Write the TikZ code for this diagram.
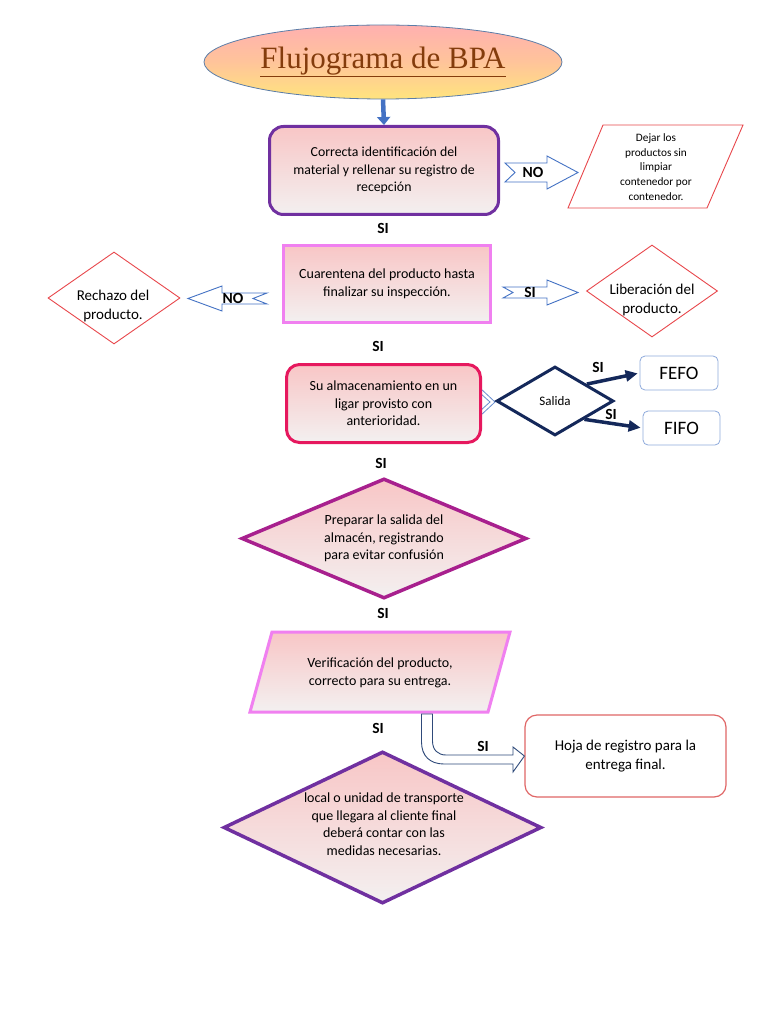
\documentclass[tikz,border=0pt]{standalone}
\usepackage{fontspec}
\setmainfont{Carlito}
\newfontfamily\titlefont{Liberation Serif}
\usetikzlibrary{shapes.geometric,arrows.meta}
\definecolor{pinkA}{HTML}{F8C6C6}
\definecolor{pinkB}{HTML}{F3F0F0}
\definecolor{titleA}{HTML}{FFB0B0}
\definecolor{titleM}{HTML}{FFC49A}
\definecolor{titleB}{HTML}{FFE47E}
\definecolor{titleline}{HTML}{5B7DA8}
\definecolor{titlebrown}{HTML}{843C0C}
\definecolor{purp}{HTML}{7030A0}
\definecolor{violet}{HTML}{F080F0}
\definecolor{crimson}{HTML}{E6185E}
\definecolor{magenta}{HTML}{A8208E}
\definecolor{navy}{HTML}{14285A}
\definecolor{lightblue}{HTML}{8FAADC}
\definecolor{redline}{HTML}{E8474C}
\definecolor{hojaline}{HTML}{E06666}
\definecolor{arrblue}{HTML}{4472C4}
\definecolor{uline}{HTML}{2F4A7A}
\tikzset{
  txt/.style={font=\fontsize{14}{17.5}\selectfont, align=center, text=black},
  grad/.style={top color=pinkA, bottom color=pinkB},
  lbl/.style={font=\fontsize{15.5}{18}\selectfont\bfseries, text=black},
  thickbox/.style={txt, grad, line width=3pt, inner sep=0pt, rectangle},
  thindia/.style={diamond, draw=redline, line width=0.9pt, fill=white, inner sep=0pt, shape aspect=1.42},
  diatxt/.style={txt, font=\fontsize{15}{18.5}\selectfont},
  blockarrow/.style={draw=arrblue, line width=0.9pt, fill=white, line join=miter},
  navyarrow/.style={draw=navy, line width=3.5pt, -{Triangle[length=12pt,width=11pt]}, shorten >=2pt},
  smallbox/.style={rectangle, rounded corners=5pt, draw=lightblue, line width=0.8pt, fill=white, font=\fontsize{19}{22}\selectfont, inner sep=0pt}
}
\begin{document}
\begin{tikzpicture}[x=1pt,y=-1pt]
\useasboundingbox (0,0) rectangle (768,1024);
\fill[white] (0,0) rectangle (768,1024);

% title
\node[ellipse, draw=titleline, line width=0.8pt, minimum width=358pt, minimum height=74pt, inner sep=0pt,
      top color=titleA, bottom color=titleB, middle color=titleM,
      font=\titlefont\fontsize{31}{36}\selectfont, text=titlebrown] (title) at (383,62) {\underline{Flujograma de BPA}};

% box 1
\node[thickbox, draw=purp, rounded corners=14pt, minimum width=229pt, minimum height=88pt, font=\fontsize{13.8}{17.5}\selectfont] (b1) at (384,170.5)
  {Correcta identificación del\\material y rellenar su registro de\\recepción};
\draw[draw=arrblue, line width=4.5pt, -{Triangle[length=8pt,width=13pt]}] (title.south) -- (b1.north);

% NO arrow right + Dejar
\draw[blockarrow] (505,163) -- (547,163) -- (547,156) -- (578,172.5) -- (547,189) -- (547,182) -- (505,182) -- (515,172.5) -- cycle;
\node[lbl] (no1) at (533,172) {NO};
\coordinate (d1) at (603,125);
\coordinate (d2) at (743,125);
\coordinate (d3) at (707,208);
\coordinate (d4) at (568,208);
\draw[draw=redline, line width=0.9pt, fill=white] (d1) -- (d2) -- (d3) -- (d4) -- cycle;
\node[txt, font=\fontsize{11.3}{14.8}\selectfont] (dejar) at (656,167) {Dejar los\\productos sin\\limpiar\\contenedor por\\contenedor.};

\node[lbl] (si1) at (383,228) {SI};

% box 2
\node[thickbox, draw=violet, minimum width=207pt, minimum height=77pt] (b2) at (387,284)
  {Cuarentena del producto hasta\\finalizar su inspección.};
\draw[blockarrow] (267,293) -- (222,293) -- (222,286) -- (188,298.5) -- (222,311) -- (222,304) -- (267,304) -- (253,298.5) -- cycle;
\node[lbl] (no2) at (233,298) {NO};
\node[thindia, minimum width=132pt, minimum height=92pt] (rech) at (114,298) {};
\node[diatxt] (rechtxt) at (113,306) {Rechazo del\\producto.};
\draw[blockarrow] (503,287) -- (547,287) -- (547,280) -- (578,292.5) -- (547,305) -- (547,298) -- (503,298) -- (513,292.5) -- cycle;
\node[lbl] (si2) at (530,292) {SI};
\node[thindia, minimum width=131pt, minimum height=92pt] (lib) at (652,291) {};
\node[diatxt] (libtxt) at (652,300) {Liberación del\\producto.};

\node[lbl] (si3) at (378,346) {SI};

% box 3 + Salida
\draw[draw=arrblue!80, line width=0.8pt, fill=white] (480,388) -- (495,402) -- (480,416) -- (480,411) -- (490,402) -- (480,393) -- cycle;
\node[thickbox, draw=crimson, rounded corners=13pt, minimum width=194pt, minimum height=78pt] (b3) at (383.5,403.5)
  {Su almacenamiento en un\\ligar provisto con\\anterioridad.};
\node[diamond, draw=navy, line width=3pt, fill=white, minimum width=117pt, minimum height=69pt, inner sep=0pt, shape aspect=1.67,
      font=\fontsize{13}{16}\selectfont] (sal) at (555,401) {Salida};
\node[smallbox, minimum width=78pt, minimum height=34pt] (fefo) at (679,373) {FEFO};
\node[smallbox, minimum width=77pt, minimum height=34pt] (fifo) at (681.5,428) {FIFO};
\draw[navyarrow] (sal.28) -- (fefo.west);
\draw[navyarrow] (sal.-32) -- (fifo.west);
\node[lbl] (si4) at (598,367) {SI};
\node[lbl] (si5) at (611,414) {SI};

\node[lbl] (si6) at (381,463) {SI};

% Preparar
\node[txt, diamond, grad, draw=magenta, line width=3.5pt, minimum width=285pt, minimum height=120pt, inner sep=0pt, shape aspect=2.34] (prep) at (384,538.5)
  {Preparar la salida del\\almacén, registrando\\para evitar confusión};

\node[lbl] (si7) at (383,613) {SI};

% Verificacion
\coordinate (v1) at (272,632);
\coordinate (v2) at (510,632);
\coordinate (v3) at (488,712);
\coordinate (v4) at (250,712);
\shade[top color=pinkA, bottom color=pinkB] (v1) -- (v2) -- (v3) -- (v4) -- cycle;
\draw[draw=violet, line width=3pt, line join=miter] (v1) -- (v2) -- (v3) -- (v4) -- cycle;
\node[txt] (ver) at (380,673) {Verificación del producto,\\correcto para su entrega.};

\node[lbl] (si8) at (378,728) {SI};

% U arrow to Hoja
\node[txt, font=\fontsize{15}{18.5}\selectfont, rectangle, rounded corners=12pt, draw=hojaline, line width=1.2pt, fill=white,
      minimum width=201pt, minimum height=82pt] (hoja) at (625.5,756) {Hoja de registro para la\\entrega final.};
\draw[draw=uline, line width=0.9pt, fill=white, line join=miter]
  (421.5,714) -- (421.5,742) .. controls (421.5,756) and (430,764) .. (444,764)
  -- (513,764) -- (513,772) -- (hoja.west) -- (513,747) -- (513,755)
  -- (446,755) .. controls (438,755) and (432.5,750) .. (432.5,741) -- (432.5,714) -- cycle;
\node[lbl] (si9) at (483,746) {SI};

% bottom diamond
\node[diamond, grad, draw=purp, line width=3.5pt, minimum width=318pt, minimum height=152pt, inner sep=0pt, shape aspect=2.07] (loc) at (382.5,827.5) {};
\node[txt] (loctxt) at (384,824) {local o unidad de transporte\\que llegara al cliente final\\deberá contar con las\\medidas necesarias.};
\end{tikzpicture}
\end{document}
